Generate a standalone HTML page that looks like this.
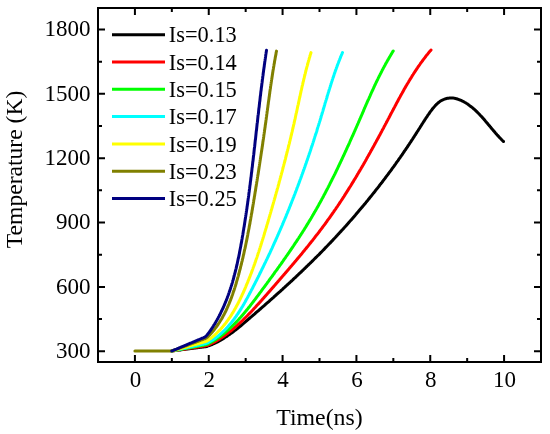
<!DOCTYPE html>
<html><head><meta charset="utf-8"><style>
html,body{margin:0;padding:0;background:#fff;}
body{width:550px;height:434px;overflow:hidden;}
svg{display:block;}
</style></head><body>
<svg width="550" height="434" viewBox="0 0 550 434">
<rect width="550" height="434" fill="#fff"/>
<g fill="none" stroke-width="3.00" stroke-linejoin="round" stroke-linecap="round">
<path stroke="#000000" d="M171.8,351.0 L172.8,350.9 L173.8,350.7 L174.8,350.6 L175.8,350.5 L176.8,350.4 L177.8,350.2 L178.8,350.1 L179.8,350.0 L180.8,349.9 L181.8,349.7 L182.7,349.6 L183.7,349.5 L184.7,349.3 L185.7,349.2 L186.7,349.1 L187.7,349.0 L188.7,348.8 L189.7,348.7 L190.7,348.6 L191.7,348.5 L192.7,348.3 L193.7,348.2 L194.6,348.1 L195.6,348.0 L196.6,347.8 L197.6,347.7 L198.6,347.6 L199.6,347.4 L200.6,347.3 L201.6,347.2 L202.6,347.1 L203.6,346.9 L204.6,346.8 L205.6,346.7 L206.5,346.5 L207.5,346.2 L208.4,345.9 L209.4,345.6 L210.3,345.2 L211.2,344.8 L212.2,344.5 L213.1,344.0 L214.0,343.6 L214.9,343.2 L215.8,342.8 L216.7,342.3 L217.6,341.9 L218.4,341.4 L219.3,340.9 L220.2,340.4 L221.1,339.9 L221.9,339.4 L222.8,338.9 L223.6,338.4 L224.5,337.8 L225.3,337.3 L226.2,336.8 L227.0,336.2 L227.8,335.6 L228.6,335.1 L229.5,334.5 L230.3,333.9 L231.1,333.3 L231.9,332.7 L232.7,332.2 L233.5,331.6 L234.3,330.9 L235.1,330.3 L235.9,329.7 L236.7,329.1 L237.4,328.5 L238.2,327.8 L239.0,327.2 L239.8,326.6 L240.5,326.0 L241.3,325.3 L242.1,324.7 L242.8,324.0 L243.6,323.4 L244.4,322.7 L245.1,322.1 L245.9,321.4 L246.6,320.8 L247.4,320.1 L248.2,319.5 L248.9,318.8 L249.7,318.2 L250.4,317.5 L251.2,316.9 L252.0,316.2 L252.7,315.6 L253.5,314.9 L254.2,314.3 L255.0,313.6 L255.7,312.9 L256.5,312.3 L257.2,311.6 L258.0,311.0 L258.8,310.3 L259.5,309.7 L260.3,309.0 L261.0,308.4 L261.8,307.7 L262.5,307.0 L263.3,306.4 L264.0,305.7 L264.8,305.1 L265.5,304.4 L266.3,303.7 L267.0,303.1 L267.8,302.4 L268.5,301.8 L269.3,301.1 L270.0,300.4 L270.8,299.8 L271.5,299.1 L272.3,298.4 L273.0,297.8 L273.8,297.1 L274.5,296.4 L275.3,295.8 L276.0,295.1 L276.7,294.4 L277.5,293.8 L278.2,293.1 L279.0,292.4 L279.7,291.8 L280.5,291.1 L281.2,290.4 L281.9,289.8 L282.7,289.1 L283.4,288.4 L284.2,287.7 L284.9,287.1 L285.6,286.4 L286.4,285.7 L287.1,285.0 L287.8,284.4 L288.6,283.7 L289.3,283.0 L290.1,282.3 L290.8,281.6 L291.5,281.0 L292.3,280.3 L293.0,279.6 L293.7,278.9 L294.5,278.2 L295.2,277.6 L295.9,276.9 L296.6,276.2 L297.4,275.5 L298.1,274.8 L298.8,274.1 L299.5,273.4 L300.3,272.8 L301.0,272.1 L301.7,271.4 L302.4,270.7 L303.2,270.0 L303.9,269.3 L304.6,268.6 L305.3,267.9 L306.0,267.2 L306.8,266.5 L307.5,265.8 L308.2,265.1 L308.9,264.4 L309.6,263.7 L310.3,263.0 L311.1,262.3 L311.8,261.6 L312.5,260.9 L313.2,260.2 L313.9,259.5 L314.6,258.8 L315.3,258.1 L316.0,257.4 L316.7,256.7 L317.4,256.0 L318.1,255.3 L318.9,254.6 L319.6,253.9 L320.3,253.1 L321.0,252.4 L321.7,251.7 L322.4,251.0 L323.1,250.3 L323.8,249.6 L324.5,248.9 L325.1,248.1 L325.8,247.4 L326.5,246.7 L327.2,246.0 L327.9,245.3 L328.6,244.5 L329.3,243.8 L330.0,243.1 L330.7,242.4 L331.4,241.6 L332.1,240.9 L332.7,240.2 L333.4,239.4 L334.1,238.7 L334.8,238.0 L335.5,237.3 L336.2,236.5 L336.8,235.8 L337.5,235.1 L338.2,234.3 L338.9,233.6 L339.5,232.8 L340.2,232.1 L340.9,231.4 L341.6,230.6 L342.2,229.9 L342.9,229.2 L343.6,228.4 L344.3,227.7 L344.9,226.9 L345.6,226.2 L346.3,225.4 L346.9,224.7 L347.6,223.9 L348.2,223.2 L348.9,222.4 L349.6,221.7 L350.2,220.9 L350.9,220.2 L351.6,219.4 L352.2,218.7 L352.9,217.9 L353.5,217.2 L354.2,216.4 L354.8,215.7 L355.5,214.9 L356.1,214.1 L356.8,213.4 L357.4,212.6 L358.1,211.9 L358.7,211.1 L359.4,210.3 L360.0,209.6 L360.7,208.8 L361.3,208.1 L362.0,207.3 L362.6,206.5 L363.2,205.8 L363.9,205.0 L364.5,204.2 L365.2,203.4 L365.8,202.7 L366.4,201.9 L367.1,201.1 L367.7,200.4 L368.3,199.6 L369.0,198.8 L369.6,198.0 L370.2,197.2 L370.8,196.5 L371.5,195.7 L372.1,194.9 L372.7,194.1 L373.3,193.3 L374.0,192.6 L374.6,191.8 L375.2,191.0 L375.8,190.2 L376.4,189.4 L377.1,188.6 L377.7,187.9 L378.3,187.1 L378.9,186.3 L379.5,185.5 L380.1,184.7 L380.7,183.9 L381.4,183.1 L382.0,182.3 L382.6,181.5 L383.2,180.7 L383.8,179.9 L384.4,179.1 L385.0,178.3 L385.6,177.5 L386.2,176.7 L386.8,175.9 L387.4,175.1 L388.0,174.3 L388.6,173.5 L389.2,172.7 L389.8,171.9 L390.4,171.1 L391.0,170.3 L391.6,169.5 L392.1,168.7 L392.7,167.9 L393.3,167.1 L393.9,166.3 L394.5,165.5 L395.1,164.6 L395.7,163.8 L396.2,163.0 L396.8,162.2 L397.4,161.4 L398.0,160.6 L398.5,159.8 L399.1,158.9 L399.7,158.1 L400.3,157.3 L400.8,156.5 L401.4,155.7 L402.0,154.8 L402.6,154.0 L403.1,153.2 L403.7,152.4 L404.2,151.5 L404.8,150.7 L405.4,149.9 L405.9,149.1 L406.5,148.2 L407.1,147.4 L407.6,146.6 L408.2,145.7 L408.7,144.9 L409.3,144.1 L409.8,143.2 L410.4,142.4 L410.9,141.6 L411.5,140.7 L412.0,139.9 L412.6,139.1 L413.1,138.2 L413.7,137.4 L414.2,136.5 L414.7,135.7 L415.3,134.9 L415.8,134.0 L416.4,133.2 L416.9,132.3 L417.4,131.5 L418.0,130.6 L418.5,129.8 L419.0,129.0 L419.6,128.1 L420.1,127.3 L420.6,126.4 L421.2,125.6 L421.7,124.7 L422.2,123.9 L422.8,123.0 L423.3,122.2 L423.9,121.4 L424.4,120.5 L424.9,119.7 L425.5,118.8 L426.0,118.0 L426.6,117.2 L427.2,116.3 L427.7,115.5 L428.3,114.7 L428.9,113.9 L429.4,113.1 L430.0,112.2 L430.6,111.4 L431.2,110.6 L431.8,109.8 L432.4,109.0 L433.0,108.2 L433.7,107.5 L434.3,106.7 L435.0,106.0 L435.6,105.2 L436.3,104.5 L437.1,103.8 L437.8,103.2 L438.6,102.5 L439.4,101.9 L440.2,101.3 L441.0,100.8 L441.9,100.3 L442.8,99.9 L443.7,99.5 L444.6,99.1 L445.6,98.8 L446.5,98.5 L447.5,98.3 L448.5,98.2 L449.5,98.1 L450.5,98.0 L451.5,98.0 L452.5,98.0 L453.5,98.1 L454.4,98.3 L455.4,98.5 L456.4,98.7 L457.4,99.0 L458.3,99.3 L459.2,99.7 L460.2,100.0 L461.1,100.4 L462.0,100.9 L462.9,101.3 L463.8,101.8 L464.6,102.3 L465.5,102.8 L466.3,103.3 L467.2,103.8 L468.0,104.4 L468.8,105.0 L469.6,105.6 L470.4,106.2 L471.2,106.8 L472.0,107.4 L472.8,108.0 L473.5,108.7 L474.3,109.3 L475.0,110.0 L475.8,110.7 L476.5,111.4 L477.2,112.1 L477.9,112.8 L478.6,113.5 L479.3,114.2 L480.0,114.9 L480.7,115.7 L481.4,116.4 L482.0,117.1 L482.7,117.9 L483.4,118.6 L484.0,119.4 L484.7,120.1 L485.3,120.9 L486.0,121.7 L486.6,122.4 L487.3,123.2 L487.9,124.0 L488.5,124.7 L489.2,125.5 L489.8,126.3 L490.5,127.0 L491.1,127.8 L491.7,128.6 L492.4,129.3 L493.0,130.1 L493.7,130.9 L494.3,131.6 L495.0,132.4 L495.6,133.2 L496.3,133.9 L496.9,134.7 L497.6,135.4 L498.3,136.1 L499.0,136.9 L499.6,137.6 L500.3,138.3 L501.0,139.0 L501.7,139.8 L502.4,140.5 L503.1,141.2 L503.5,141.5"/>
<path stroke="#ff0000" d="M171.8,351.0 L172.8,350.8 L173.8,350.7 L174.8,350.5 L175.8,350.4 L176.8,350.2 L177.8,350.1 L178.8,349.9 L179.7,349.8 L180.7,349.6 L181.7,349.5 L182.7,349.3 L183.7,349.2 L184.7,349.0 L185.7,348.9 L186.7,348.7 L187.6,348.6 L188.6,348.4 L189.6,348.3 L190.6,348.1 L191.6,348.0 L192.6,347.8 L193.6,347.7 L194.6,347.5 L195.6,347.4 L196.5,347.2 L197.5,347.1 L198.5,346.9 L199.5,346.8 L200.5,346.6 L201.5,346.4 L202.5,346.3 L203.5,346.1 L204.4,346.0 L205.4,345.8 L206.4,345.6 L207.4,345.3 L208.3,345.0 L209.2,344.6 L210.1,344.2 L211.0,343.7 L211.9,343.3 L212.8,342.8 L213.7,342.4 L214.6,341.9 L215.4,341.4 L216.3,340.9 L217.2,340.4 L218.0,339.9 L218.9,339.4 L219.7,338.9 L220.6,338.3 L221.4,337.8 L222.2,337.2 L223.1,336.7 L223.9,336.1 L224.7,335.5 L225.5,334.9 L226.3,334.4 L227.1,333.8 L227.9,333.2 L228.7,332.5 L229.5,331.9 L230.3,331.3 L231.1,330.7 L231.9,330.0 L232.6,329.4 L233.4,328.8 L234.2,328.1 L234.9,327.5 L235.7,326.8 L236.4,326.1 L237.2,325.5 L237.9,324.8 L238.6,324.1 L239.4,323.5 L240.1,322.8 L240.8,322.1 L241.6,321.4 L242.3,320.7 L243.0,320.0 L243.7,319.3 L244.4,318.6 L245.1,317.9 L245.8,317.2 L246.5,316.5 L247.2,315.8 L247.9,315.1 L248.6,314.3 L249.3,313.6 L250.0,312.9 L250.7,312.2 L251.4,311.5 L252.1,310.7 L252.8,310.0 L253.5,309.3 L254.1,308.5 L254.8,307.8 L255.5,307.1 L256.2,306.3 L256.8,305.6 L257.5,304.8 L258.2,304.1 L258.9,303.4 L259.5,302.6 L260.2,301.9 L260.9,301.1 L261.5,300.4 L262.2,299.6 L262.9,298.9 L263.5,298.1 L264.2,297.4 L264.8,296.6 L265.5,295.9 L266.2,295.1 L266.8,294.4 L267.5,293.6 L268.1,292.9 L268.8,292.1 L269.5,291.4 L270.1,290.6 L270.8,289.9 L271.4,289.1 L272.1,288.4 L272.7,287.6 L273.4,286.9 L274.1,286.1 L274.7,285.3 L275.4,284.6 L276.0,283.8 L276.7,283.1 L277.3,282.3 L278.0,281.6 L278.6,280.8 L279.3,280.1 L280.0,279.3 L280.6,278.5 L281.3,277.8 L281.9,277.0 L282.6,276.3 L283.2,275.5 L283.9,274.8 L284.5,274.0 L285.2,273.3 L285.8,272.5 L286.5,271.7 L287.1,271.0 L287.8,270.2 L288.4,269.5 L289.1,268.7 L289.7,267.9 L290.4,267.2 L291.0,266.4 L291.7,265.7 L292.3,264.9 L293.0,264.1 L293.6,263.4 L294.3,262.6 L294.9,261.8 L295.6,261.1 L296.2,260.3 L296.9,259.5 L297.5,258.8 L298.1,258.0 L298.8,257.2 L299.4,256.5 L300.1,255.7 L300.7,254.9 L301.3,254.2 L302.0,253.4 L302.6,252.6 L303.2,251.8 L303.9,251.1 L304.5,250.3 L305.1,249.5 L305.8,248.8 L306.4,248.0 L307.0,247.2 L307.7,246.4 L308.3,245.6 L308.9,244.9 L309.5,244.1 L310.2,243.3 L310.8,242.5 L311.4,241.7 L312.0,241.0 L312.7,240.2 L313.3,239.4 L313.9,238.6 L314.5,237.8 L315.1,237.0 L315.7,236.2 L316.3,235.4 L317.0,234.6 L317.6,233.9 L318.2,233.1 L318.8,232.3 L319.4,231.5 L320.0,230.7 L320.6,229.9 L321.2,229.1 L321.8,228.3 L322.4,227.5 L323.0,226.7 L323.6,225.9 L324.2,225.1 L324.8,224.3 L325.4,223.5 L326.0,222.7 L326.6,221.9 L327.1,221.0 L327.7,220.2 L328.3,219.4 L328.9,218.6 L329.5,217.8 L330.1,217.0 L330.6,216.2 L331.2,215.3 L331.8,214.5 L332.4,213.7 L332.9,212.9 L333.5,212.1 L334.1,211.2 L334.6,210.4 L335.2,209.6 L335.8,208.8 L336.3,207.9 L336.9,207.1 L337.5,206.3 L338.0,205.5 L338.6,204.6 L339.1,203.8 L339.7,203.0 L340.2,202.1 L340.8,201.3 L341.3,200.5 L341.9,199.6 L342.4,198.8 L343.0,197.9 L343.5,197.1 L344.1,196.3 L344.6,195.4 L345.1,194.6 L345.7,193.7 L346.2,192.9 L346.7,192.1 L347.3,191.2 L347.8,190.4 L348.3,189.5 L348.9,188.7 L349.4,187.8 L349.9,187.0 L350.5,186.1 L351.0,185.3 L351.5,184.4 L352.0,183.6 L352.6,182.7 L353.1,181.9 L353.6,181.0 L354.1,180.1 L354.6,179.3 L355.2,178.4 L355.7,177.6 L356.2,176.7 L356.7,175.9 L357.2,175.0 L357.7,174.1 L358.2,173.3 L358.7,172.4 L359.2,171.6 L359.8,170.7 L360.3,169.8 L360.8,169.0 L361.3,168.1 L361.8,167.2 L362.3,166.4 L362.8,165.5 L363.3,164.7 L363.8,163.8 L364.3,162.9 L364.8,162.0 L365.3,161.2 L365.8,160.3 L366.3,159.4 L366.7,158.6 L367.2,157.7 L367.7,156.8 L368.2,156.0 L368.7,155.1 L369.2,154.2 L369.7,153.3 L370.2,152.5 L370.7,151.6 L371.1,150.7 L371.6,149.9 L372.1,149.0 L372.6,148.1 L373.1,147.2 L373.6,146.3 L374.1,145.5 L374.5,144.6 L375.0,143.7 L375.5,142.8 L376.0,142.0 L376.4,141.1 L376.9,140.2 L377.4,139.3 L377.9,138.4 L378.4,137.6 L378.8,136.7 L379.3,135.8 L379.8,134.9 L380.3,134.0 L380.7,133.2 L381.2,132.3 L381.7,131.4 L382.1,130.5 L382.6,129.6 L383.1,128.8 L383.6,127.9 L384.0,127.0 L384.5,126.1 L385.0,125.2 L385.4,124.3 L385.9,123.5 L386.4,122.6 L386.8,121.7 L387.3,120.8 L387.8,119.9 L388.2,119.0 L388.7,118.2 L389.2,117.3 L389.6,116.4 L390.1,115.5 L390.6,114.6 L391.0,113.7 L391.5,112.8 L392.0,112.0 L392.4,111.1 L392.9,110.2 L393.4,109.3 L393.8,108.4 L394.3,107.5 L394.8,106.7 L395.2,105.8 L395.7,104.9 L396.2,104.0 L396.6,103.1 L397.1,102.2 L397.6,101.4 L398.1,100.5 L398.5,99.6 L399.0,98.7 L399.5,97.8 L400.0,97.0 L400.4,96.1 L400.9,95.2 L401.4,94.3 L401.9,93.5 L402.4,92.6 L402.9,91.7 L403.4,90.8 L403.8,90.0 L404.3,89.1 L404.8,88.2 L405.3,87.4 L405.8,86.5 L406.3,85.6 L406.8,84.8 L407.3,83.9 L407.9,83.0 L408.4,82.2 L408.9,81.3 L409.4,80.5 L409.9,79.6 L410.4,78.8 L411.0,77.9 L411.5,77.1 L412.0,76.2 L412.5,75.4 L413.1,74.5 L413.6,73.7 L414.2,72.8 L414.7,72.0 L415.3,71.2 L415.8,70.3 L416.4,69.5 L416.9,68.7 L417.5,67.8 L418.0,67.0 L418.6,66.2 L419.2,65.4 L419.8,64.5 L420.3,63.7 L420.9,62.9 L421.5,62.1 L422.1,61.3 L422.7,60.5 L423.3,59.7 L423.9,58.9 L424.5,58.1 L425.1,57.3 L425.7,56.5 L426.3,55.7 L426.9,54.9 L427.6,54.2 L428.2,53.4 L428.8,52.6 L429.5,51.8 L430.1,51.1 L430.7,50.4 L431.0,50.0"/>
<path stroke="#00ff00" d="M171.8,351.0 L172.8,350.8 L173.8,350.6 L174.8,350.5 L175.8,350.3 L176.8,350.1 L177.7,349.9 L178.7,349.7 L179.7,349.5 L180.7,349.4 L181.7,349.2 L182.7,349.0 L183.6,348.8 L184.6,348.6 L185.6,348.5 L186.6,348.3 L187.6,348.1 L188.6,347.9 L189.5,347.7 L190.5,347.5 L191.5,347.4 L192.5,347.2 L193.5,347.0 L194.5,346.8 L195.4,346.6 L196.4,346.5 L197.4,346.3 L198.4,346.1 L199.4,345.9 L200.4,345.7 L201.3,345.5 L202.3,345.4 L203.3,345.2 L204.3,345.0 L205.3,344.8 L206.2,344.6 L207.2,344.3 L208.1,343.9 L209.0,343.5 L209.9,343.0 L210.7,342.5 L211.6,342.0 L212.5,341.5 L213.3,341.0 L214.2,340.5 L215.0,340.0 L215.9,339.4 L216.7,338.9 L217.5,338.3 L218.4,337.7 L219.2,337.2 L220.0,336.6 L220.8,336.0 L221.6,335.4 L222.4,334.8 L223.2,334.1 L223.9,333.5 L224.7,332.9 L225.5,332.2 L226.2,331.6 L227.0,330.9 L227.8,330.3 L228.5,329.6 L229.2,328.9 L230.0,328.3 L230.7,327.6 L231.4,326.9 L232.1,326.2 L232.9,325.5 L233.6,324.8 L234.3,324.1 L235.0,323.4 L235.7,322.6 L236.4,321.9 L237.0,321.2 L237.7,320.5 L238.4,319.7 L239.1,319.0 L239.7,318.2 L240.4,317.5 L241.1,316.7 L241.7,316.0 L242.4,315.2 L243.0,314.5 L243.7,313.7 L244.3,312.9 L245.0,312.2 L245.6,311.4 L246.2,310.6 L246.9,309.9 L247.5,309.1 L248.1,308.3 L248.7,307.5 L249.4,306.7 L250.0,306.0 L250.6,305.2 L251.2,304.4 L251.8,303.6 L252.4,302.8 L253.1,302.0 L253.7,301.2 L254.3,300.4 L254.9,299.6 L255.5,298.8 L256.1,298.0 L256.7,297.2 L257.3,296.4 L257.9,295.6 L258.5,294.8 L259.1,294.0 L259.7,293.2 L260.3,292.4 L260.9,291.6 L261.4,290.8 L262.0,290.0 L262.6,289.2 L263.2,288.4 L263.8,287.6 L264.4,286.8 L265.0,286.0 L265.6,285.2 L266.2,284.4 L266.8,283.6 L267.4,282.7 L268.0,281.9 L268.6,281.1 L269.1,280.3 L269.7,279.5 L270.3,278.7 L270.9,277.9 L271.5,277.1 L272.1,276.3 L272.7,275.5 L273.3,274.7 L273.9,273.9 L274.4,273.0 L275.0,272.2 L275.6,271.4 L276.2,270.6 L276.8,269.8 L277.4,269.0 L277.9,268.2 L278.5,267.4 L279.1,266.6 L279.7,265.7 L280.3,264.9 L280.9,264.1 L281.4,263.3 L282.0,262.5 L282.6,261.7 L283.2,260.8 L283.7,260.0 L284.3,259.2 L284.9,258.4 L285.5,257.6 L286.0,256.7 L286.6,255.9 L287.2,255.1 L287.7,254.3 L288.3,253.5 L288.9,252.6 L289.4,251.8 L290.0,251.0 L290.6,250.2 L291.1,249.3 L291.7,248.5 L292.3,247.7 L292.8,246.9 L293.4,246.0 L293.9,245.2 L294.5,244.4 L295.0,243.5 L295.6,242.7 L296.2,241.9 L296.7,241.0 L297.3,240.2 L297.8,239.4 L298.4,238.5 L298.9,237.7 L299.4,236.9 L300.0,236.0 L300.5,235.2 L301.1,234.3 L301.6,233.5 L302.2,232.6 L302.7,231.8 L303.2,231.0 L303.8,230.1 L304.3,229.3 L304.8,228.4 L305.4,227.6 L305.9,226.7 L306.4,225.9 L306.9,225.0 L307.5,224.2 L308.0,223.3 L308.5,222.5 L309.0,221.6 L309.5,220.8 L310.1,219.9 L310.6,219.0 L311.1,218.2 L311.6,217.3 L312.1,216.5 L312.6,215.6 L313.1,214.7 L313.6,213.9 L314.1,213.0 L314.6,212.1 L315.1,211.3 L315.6,210.4 L316.1,209.5 L316.6,208.7 L317.1,207.8 L317.6,206.9 L318.1,206.1 L318.6,205.2 L319.0,204.3 L319.5,203.4 L320.0,202.6 L320.5,201.7 L321.0,200.8 L321.5,199.9 L321.9,199.0 L322.4,198.2 L322.9,197.3 L323.4,196.4 L323.8,195.5 L324.3,194.6 L324.8,193.8 L325.2,192.9 L325.7,192.0 L326.2,191.1 L326.6,190.2 L327.1,189.3 L327.6,188.4 L328.0,187.6 L328.5,186.7 L328.9,185.8 L329.4,184.9 L329.8,184.0 L330.3,183.1 L330.7,182.2 L331.2,181.3 L331.6,180.4 L332.1,179.5 L332.5,178.6 L333.0,177.7 L333.4,176.8 L333.9,175.9 L334.3,175.1 L334.8,174.2 L335.2,173.3 L335.6,172.4 L336.1,171.5 L336.5,170.6 L336.9,169.7 L337.4,168.8 L337.8,167.9 L338.2,167.0 L338.7,166.1 L339.1,165.2 L339.5,164.2 L340.0,163.3 L340.4,162.4 L340.8,161.5 L341.3,160.6 L341.7,159.7 L342.1,158.8 L342.5,157.9 L342.9,157.0 L343.4,156.1 L343.8,155.2 L344.2,154.3 L344.6,153.4 L345.0,152.5 L345.5,151.6 L345.9,150.7 L346.3,149.7 L346.7,148.8 L347.1,147.9 L347.5,147.0 L348.0,146.1 L348.4,145.2 L348.8,144.3 L349.2,143.4 L349.6,142.5 L350.0,141.5 L350.4,140.6 L350.8,139.7 L351.2,138.8 L351.6,137.9 L352.0,137.0 L352.5,136.1 L352.9,135.2 L353.3,134.2 L353.7,133.3 L354.1,132.4 L354.5,131.5 L354.9,130.6 L355.3,129.7 L355.7,128.7 L356.1,127.8 L356.5,126.9 L356.9,126.0 L357.3,125.1 L357.7,124.2 L358.1,123.3 L358.5,122.3 L358.9,121.4 L359.3,120.5 L359.7,119.6 L360.1,118.7 L360.5,117.7 L360.9,116.8 L361.3,115.9 L361.7,115.0 L362.1,114.1 L362.5,113.2 L362.9,112.2 L363.3,111.3 L363.7,110.4 L364.0,109.5 L364.4,108.6 L364.8,107.7 L365.2,106.7 L365.6,105.8 L366.0,104.9 L366.4,104.0 L366.8,103.1 L367.2,102.2 L367.6,101.2 L368.0,100.3 L368.5,99.4 L368.9,98.5 L369.3,97.6 L369.7,96.7 L370.1,95.8 L370.5,94.8 L370.9,93.9 L371.3,93.0 L371.7,92.1 L372.1,91.2 L372.6,90.3 L373.0,89.4 L373.4,88.5 L373.8,87.6 L374.2,86.7 L374.6,85.7 L375.1,84.8 L375.5,83.9 L375.9,83.0 L376.4,82.1 L376.8,81.2 L377.2,80.3 L377.7,79.4 L378.1,78.5 L378.5,77.6 L379.0,76.7 L379.4,75.8 L379.9,74.9 L380.3,74.1 L380.8,73.2 L381.2,72.3 L381.7,71.4 L382.1,70.5 L382.6,69.6 L383.1,68.7 L383.5,67.8 L384.0,67.0 L384.5,66.1 L385.0,65.2 L385.4,64.3 L385.9,63.4 L386.4,62.6 L386.9,61.7 L387.4,60.8 L387.9,59.9 L388.4,59.1 L388.9,58.2 L389.4,57.3 L389.9,56.5 L390.4,55.6 L390.9,54.8 L391.4,53.9 L391.9,53.1 L392.4,52.2 L392.9,51.4 L393.2,51.0"/>
<path stroke="#00ffff" d="M171.8,351.0 L172.8,350.8 L173.8,350.6 L174.8,350.4 L175.7,350.1 L176.7,349.9 L177.7,349.7 L178.7,349.5 L179.6,349.3 L180.6,349.1 L181.6,348.9 L182.6,348.6 L183.6,348.4 L184.5,348.2 L185.5,348.0 L186.5,347.8 L187.5,347.6 L188.4,347.4 L189.4,347.2 L190.4,346.9 L191.4,346.7 L192.3,346.5 L193.3,346.3 L194.3,346.1 L195.3,345.9 L196.3,345.7 L197.2,345.4 L198.2,345.2 L199.2,345.0 L200.2,344.8 L201.1,344.6 L202.1,344.4 L203.1,344.2 L204.1,343.9 L205.0,343.7 L206.0,343.5 L206.9,343.1 L207.9,342.8 L208.7,342.3 L209.6,341.8 L210.5,341.3 L211.3,340.8 L212.2,340.3 L213.0,339.7 L213.8,339.1 L214.7,338.6 L215.5,338.0 L216.3,337.4 L217.1,336.8 L217.9,336.2 L218.6,335.6 L219.4,334.9 L220.2,334.3 L220.9,333.6 L221.7,333.0 L222.4,332.3 L223.1,331.6 L223.9,330.9 L224.6,330.2 L225.3,329.5 L226.0,328.8 L226.7,328.1 L227.3,327.3 L228.0,326.6 L228.7,325.8 L229.3,325.1 L230.0,324.3 L230.6,323.5 L231.3,322.8 L231.9,322.0 L232.5,321.2 L233.1,320.4 L233.7,319.6 L234.3,318.8 L234.9,318.0 L235.5,317.2 L236.1,316.4 L236.6,315.6 L237.2,314.7 L237.8,313.9 L238.3,313.1 L238.9,312.2 L239.4,311.4 L239.9,310.6 L240.5,309.7 L241.0,308.9 L241.5,308.0 L242.0,307.2 L242.6,306.3 L243.1,305.4 L243.6,304.6 L244.1,303.7 L244.6,302.8 L245.1,302.0 L245.6,301.1 L246.0,300.2 L246.5,299.3 L247.0,298.5 L247.5,297.6 L248.0,296.7 L248.4,295.8 L248.9,295.0 L249.4,294.1 L249.8,293.2 L250.3,292.3 L250.8,291.4 L251.2,290.5 L251.7,289.6 L252.2,288.8 L252.6,287.9 L253.1,287.0 L253.5,286.1 L254.0,285.2 L254.5,284.3 L254.9,283.4 L255.4,282.5 L255.8,281.6 L256.3,280.8 L256.7,279.9 L257.2,279.0 L257.6,278.1 L258.1,277.2 L258.5,276.3 L259.0,275.4 L259.4,274.5 L259.9,273.6 L260.3,272.7 L260.8,271.8 L261.2,270.9 L261.6,270.0 L262.1,269.1 L262.5,268.2 L263.0,267.3 L263.4,266.4 L263.8,265.5 L264.3,264.6 L264.7,263.7 L265.1,262.8 L265.6,261.9 L266.0,261.0 L266.4,260.1 L266.9,259.2 L267.3,258.3 L267.7,257.4 L268.2,256.5 L268.6,255.6 L269.0,254.7 L269.4,253.8 L269.9,252.9 L270.3,252.0 L270.7,251.1 L271.1,250.2 L271.5,249.3 L272.0,248.3 L272.4,247.4 L272.8,246.5 L273.2,245.6 L273.6,244.7 L274.0,243.8 L274.4,242.9 L274.8,242.0 L275.3,241.1 L275.7,240.1 L276.1,239.2 L276.5,238.3 L276.9,237.4 L277.3,236.5 L277.7,235.6 L278.1,234.7 L278.5,233.7 L278.9,232.8 L279.3,231.9 L279.7,231.0 L280.1,230.1 L280.5,229.2 L280.9,228.2 L281.3,227.3 L281.7,226.4 L282.1,225.5 L282.5,224.6 L282.9,223.6 L283.2,222.7 L283.6,221.8 L284.0,220.9 L284.4,220.0 L284.8,219.0 L285.2,218.1 L285.6,217.2 L286.0,216.3 L286.3,215.3 L286.7,214.4 L287.1,213.5 L287.5,212.6 L287.9,211.6 L288.2,210.7 L288.6,209.8 L289.0,208.9 L289.4,207.9 L289.7,207.0 L290.1,206.1 L290.5,205.2 L290.8,204.2 L291.2,203.3 L291.6,202.4 L291.9,201.4 L292.3,200.5 L292.7,199.6 L293.0,198.6 L293.4,197.7 L293.8,196.8 L294.1,195.8 L294.5,194.9 L294.9,194.0 L295.2,193.0 L295.6,192.1 L295.9,191.2 L296.3,190.2 L296.6,189.3 L297.0,188.4 L297.3,187.4 L297.7,186.5 L298.0,185.6 L298.4,184.6 L298.7,183.7 L299.1,182.8 L299.4,181.8 L299.8,180.9 L300.1,179.9 L300.5,179.0 L300.8,178.1 L301.2,177.1 L301.5,176.2 L301.8,175.2 L302.2,174.3 L302.5,173.4 L302.9,172.4 L303.2,171.5 L303.5,170.5 L303.9,169.6 L304.2,168.7 L304.5,167.7 L304.9,166.8 L305.2,165.8 L305.5,164.9 L305.9,163.9 L306.2,163.0 L306.5,162.0 L306.8,161.1 L307.2,160.2 L307.5,159.2 L307.8,158.3 L308.1,157.3 L308.5,156.4 L308.8,155.4 L309.1,154.5 L309.4,153.5 L309.8,152.6 L310.1,151.6 L310.4,150.7 L310.7,149.7 L311.0,148.8 L311.3,147.8 L311.6,146.9 L312.0,145.9 L312.3,145.0 L312.6,144.0 L312.9,143.1 L313.2,142.1 L313.5,141.2 L313.8,140.2 L314.1,139.3 L314.4,138.3 L314.7,137.4 L315.0,136.4 L315.3,135.5 L315.6,134.5 L316.0,133.6 L316.3,132.6 L316.6,131.7 L316.9,130.7 L317.1,129.8 L317.4,128.8 L317.7,127.8 L318.0,126.9 L318.3,125.9 L318.6,125.0 L318.9,124.0 L319.2,123.1 L319.5,122.1 L319.8,121.2 L320.1,120.2 L320.4,119.2 L320.7,118.3 L321.0,117.3 L321.2,116.4 L321.5,115.4 L321.8,114.5 L322.1,113.5 L322.4,112.5 L322.7,111.6 L323.0,110.6 L323.2,109.7 L323.5,108.7 L323.8,107.7 L324.1,106.8 L324.4,105.8 L324.7,104.9 L324.9,103.9 L325.2,102.9 L325.5,102.0 L325.8,101.0 L326.1,100.1 L326.4,99.1 L326.7,98.2 L327.0,97.2 L327.2,96.2 L327.5,95.3 L327.8,94.3 L328.1,93.4 L328.4,92.4 L328.7,91.5 L329.0,90.5 L329.3,89.5 L329.6,88.6 L329.9,87.6 L330.2,86.7 L330.5,85.7 L330.8,84.8 L331.1,83.8 L331.4,82.9 L331.7,81.9 L332.0,81.0 L332.3,80.0 L332.6,79.1 L332.9,78.1 L333.3,77.2 L333.6,76.2 L333.9,75.3 L334.2,74.3 L334.5,73.4 L334.9,72.4 L335.2,71.5 L335.5,70.5 L335.9,69.6 L336.2,68.7 L336.5,67.7 L336.9,66.8 L337.2,65.8 L337.6,64.9 L337.9,64.0 L338.3,63.0 L338.6,62.1 L339.0,61.2 L339.4,60.2 L339.7,59.3 L340.1,58.4 L340.5,57.4 L340.8,56.5 L341.2,55.6 L341.6,54.7 L342.0,53.8 L342.3,52.9 L342.5,52.5"/>
<path stroke="#ffff00" d="M171.8,351.0 L172.8,350.7 L173.8,350.5 L174.7,350.2 L175.7,349.9 L176.6,349.7 L177.6,349.4 L178.6,349.1 L179.5,348.9 L180.5,348.6 L181.5,348.3 L182.4,348.0 L183.4,347.8 L184.4,347.5 L185.3,347.2 L186.3,347.0 L187.2,346.7 L188.2,346.4 L189.2,346.2 L190.1,345.9 L191.1,345.6 L192.1,345.4 L193.0,345.1 L194.0,344.8 L195.0,344.6 L195.9,344.3 L196.9,344.0 L197.8,343.8 L198.8,343.5 L199.8,343.2 L200.7,342.9 L201.7,342.7 L202.7,342.4 L203.6,342.1 L204.6,341.9 L205.5,341.6 L206.5,341.2 L207.3,340.8 L208.2,340.3 L209.0,339.7 L209.8,339.1 L210.6,338.5 L211.4,337.9 L212.1,337.2 L212.9,336.6 L213.7,335.9 L214.4,335.3 L215.1,334.6 L215.9,333.9 L216.6,333.2 L217.3,332.5 L218.0,331.8 L218.7,331.1 L219.4,330.4 L220.1,329.7 L220.8,328.9 L221.4,328.2 L222.1,327.4 L222.8,326.7 L223.4,325.9 L224.0,325.1 L224.7,324.4 L225.3,323.6 L225.9,322.8 L226.5,322.0 L227.1,321.2 L227.7,320.4 L228.3,319.6 L228.8,318.7 L229.4,317.9 L230.0,317.1 L230.5,316.3 L231.1,315.4 L231.6,314.6 L232.1,313.7 L232.7,312.9 L233.2,312.0 L233.7,311.2 L234.2,310.3 L234.7,309.4 L235.2,308.6 L235.7,307.7 L236.2,306.8 L236.6,305.9 L237.1,305.1 L237.6,304.2 L238.1,303.3 L238.5,302.4 L239.0,301.5 L239.4,300.6 L239.9,299.7 L240.3,298.8 L240.7,297.9 L241.2,297.0 L241.6,296.1 L242.0,295.2 L242.4,294.3 L242.8,293.4 L243.3,292.5 L243.7,291.6 L244.1,290.7 L244.5,289.7 L244.9,288.8 L245.3,287.9 L245.7,287.0 L246.0,286.1 L246.4,285.1 L246.8,284.2 L247.2,283.3 L247.6,282.4 L248.0,281.4 L248.3,280.5 L248.7,279.6 L249.1,278.7 L249.4,277.7 L249.8,276.8 L250.2,275.9 L250.5,274.9 L250.9,274.0 L251.3,273.1 L251.6,272.1 L252.0,271.2 L252.3,270.3 L252.7,269.3 L253.0,268.4 L253.3,267.4 L253.7,266.5 L254.0,265.6 L254.4,264.6 L254.7,263.7 L255.0,262.7 L255.4,261.8 L255.7,260.8 L256.0,259.9 L256.3,259.0 L256.7,258.0 L257.0,257.1 L257.3,256.1 L257.6,255.2 L257.9,254.2 L258.2,253.3 L258.6,252.3 L258.9,251.4 L259.2,250.4 L259.5,249.5 L259.8,248.5 L260.1,247.6 L260.4,246.6 L260.7,245.7 L261.0,244.7 L261.3,243.7 L261.6,242.8 L261.9,241.8 L262.2,240.9 L262.5,239.9 L262.8,239.0 L263.1,238.0 L263.4,237.1 L263.7,236.1 L264.0,235.1 L264.3,234.2 L264.5,233.2 L264.8,232.3 L265.1,231.3 L265.4,230.4 L265.7,229.4 L266.0,228.4 L266.3,227.5 L266.6,226.5 L266.8,225.6 L267.1,224.6 L267.4,223.7 L267.7,222.7 L268.0,221.7 L268.3,220.8 L268.5,219.8 L268.8,218.9 L269.1,217.9 L269.4,216.9 L269.7,216.0 L269.9,215.0 L270.2,214.1 L270.5,213.1 L270.8,212.1 L271.0,211.2 L271.3,210.2 L271.6,209.3 L271.9,208.3 L272.2,207.3 L272.4,206.4 L272.7,205.4 L273.0,204.4 L273.3,203.5 L273.5,202.5 L273.8,201.6 L274.1,200.6 L274.4,199.6 L274.6,198.7 L274.9,197.7 L275.2,196.7 L275.4,195.8 L275.7,194.8 L276.0,193.9 L276.2,192.9 L276.5,191.9 L276.8,191.0 L277.1,190.0 L277.3,189.0 L277.6,188.1 L277.9,187.1 L278.1,186.2 L278.4,185.2 L278.7,184.2 L278.9,183.3 L279.2,182.3 L279.4,181.3 L279.7,180.4 L280.0,179.4 L280.2,178.4 L280.5,177.5 L280.8,176.5 L281.0,175.5 L281.3,174.6 L281.5,173.6 L281.8,172.6 L282.1,171.7 L282.3,170.7 L282.6,169.7 L282.8,168.8 L283.1,167.8 L283.3,166.8 L283.6,165.9 L283.8,164.9 L284.1,163.9 L284.3,163.0 L284.6,162.0 L284.9,161.0 L285.1,160.1 L285.4,159.1 L285.6,158.1 L285.8,157.2 L286.1,156.2 L286.3,155.2 L286.6,154.3 L286.8,153.3 L287.1,152.3 L287.3,151.4 L287.6,150.4 L287.8,149.4 L288.1,148.4 L288.3,147.5 L288.5,146.5 L288.8,145.5 L289.0,144.6 L289.3,143.6 L289.5,142.6 L289.7,141.6 L290.0,140.7 L290.2,139.7 L290.4,138.7 L290.7,137.8 L290.9,136.8 L291.1,135.8 L291.4,134.8 L291.6,133.9 L291.8,132.9 L292.1,131.9 L292.3,130.9 L292.5,130.0 L292.7,129.0 L293.0,128.0 L293.2,127.0 L293.4,126.1 L293.6,125.1 L293.9,124.1 L294.1,123.1 L294.3,122.2 L294.5,121.2 L294.7,120.2 L295.0,119.2 L295.2,118.3 L295.4,117.3 L295.6,116.3 L295.8,115.3 L296.0,114.4 L296.2,113.4 L296.5,112.4 L296.7,111.4 L296.9,110.5 L297.1,109.5 L297.3,108.5 L297.5,107.5 L297.7,106.5 L297.9,105.6 L298.2,104.6 L298.4,103.6 L298.6,102.6 L298.8,101.7 L299.0,100.7 L299.2,99.7 L299.4,98.7 L299.6,97.8 L299.9,96.8 L300.1,95.8 L300.3,94.8 L300.5,93.8 L300.7,92.9 L300.9,91.9 L301.1,90.9 L301.4,89.9 L301.6,89.0 L301.8,88.0 L302.0,87.0 L302.2,86.0 L302.5,85.1 L302.7,84.1 L302.9,83.1 L303.1,82.1 L303.4,81.2 L303.6,80.2 L303.8,79.2 L304.1,78.2 L304.3,77.3 L304.5,76.3 L304.8,75.3 L305.0,74.4 L305.3,73.4 L305.5,72.4 L305.7,71.5 L306.0,70.5 L306.2,69.5 L306.5,68.5 L306.7,67.6 L307.0,66.6 L307.3,65.6 L307.5,64.7 L307.8,63.7 L308.0,62.7 L308.3,61.8 L308.6,60.8 L308.9,59.9 L309.1,58.9 L309.4,57.9 L309.7,57.0 L310.0,56.0 L310.2,55.1 L310.5,54.2 L310.8,53.4 L311.0,52.6 L311.0,52.6"/>
<path stroke="#808000" d="M134.9,351.0 L135.9,351.0 L136.9,351.0 L137.9,351.0 L138.9,351.0 L139.9,351.0 L140.9,351.0 L141.9,351.0 L142.9,351.0 L143.9,351.0 L144.9,351.0 L145.9,351.0 L146.9,351.0 L147.9,351.0 L148.9,351.0 L149.9,351.0 L150.9,351.0 L151.9,351.0 L152.9,351.0 L153.9,351.0 L154.9,351.0 L155.9,351.0 L156.9,351.0 L157.9,351.0 L158.9,351.0 L159.9,351.0 L160.9,351.0 L161.9,351.0 L162.9,351.0 L163.9,351.0 L164.9,351.0 L165.9,351.0 L166.9,351.0 L167.9,351.0 L168.9,351.0 L169.9,351.0 L170.9,350.9 L171.9,350.8 L172.8,350.6 L173.8,350.3 L174.7,349.9 L175.7,349.6 L176.6,349.2 L177.5,348.9 L178.5,348.5 L179.4,348.2 L180.4,347.9 L181.3,347.5 L182.2,347.2 L183.2,346.8 L184.1,346.5 L185.0,346.1 L186.0,345.8 L186.9,345.4 L187.9,345.1 L188.8,344.7 L189.7,344.4 L190.7,344.0 L191.6,343.7 L192.5,343.4 L193.5,343.0 L194.4,342.7 L195.4,342.3 L196.3,342.0 L197.2,341.6 L198.2,341.3 L199.1,340.9 L200.1,340.6 L201.0,340.2 L201.9,339.9 L202.9,339.5 L203.8,339.2 L204.7,338.8 L205.6,338.4 L206.5,337.9 L207.3,337.3 L208.0,336.7 L208.7,336.0 L209.4,335.3 L210.1,334.5 L210.8,333.8 L211.4,333.1 L212.1,332.3 L212.7,331.5 L213.4,330.8 L214.0,330.0 L214.6,329.2 L215.2,328.4 L215.8,327.6 L216.4,326.8 L217.0,326.0 L217.6,325.2 L218.1,324.4 L218.7,323.5 L219.2,322.7 L219.8,321.8 L220.3,321.0 L220.8,320.1 L221.4,319.3 L221.9,318.4 L222.4,317.6 L222.8,316.7 L223.3,315.8 L223.8,314.9 L224.3,314.0 L224.7,313.2 L225.2,312.3 L225.6,311.4 L226.1,310.5 L226.5,309.6 L226.9,308.7 L227.3,307.7 L227.7,306.8 L228.1,305.9 L228.5,305.0 L228.9,304.1 L229.3,303.1 L229.7,302.2 L230.0,301.3 L230.4,300.4 L230.8,299.4 L231.1,298.5 L231.5,297.6 L231.8,296.6 L232.1,295.7 L232.5,294.7 L232.8,293.8 L233.1,292.8 L233.4,291.9 L233.8,290.9 L234.1,290.0 L234.4,289.0 L234.7,288.1 L235.0,287.1 L235.3,286.2 L235.6,285.2 L235.9,284.3 L236.2,283.3 L236.4,282.4 L236.7,281.4 L237.0,280.4 L237.3,279.5 L237.5,278.5 L237.8,277.5 L238.1,276.6 L238.4,275.6 L238.6,274.7 L238.9,273.7 L239.1,272.7 L239.4,271.8 L239.6,270.8 L239.9,269.8 L240.2,268.9 L240.4,267.9 L240.6,266.9 L240.9,265.9 L241.1,265.0 L241.4,264.0 L241.6,263.0 L241.8,262.1 L242.1,261.1 L242.3,260.1 L242.5,259.1 L242.8,258.2 L243.0,257.2 L243.2,256.2 L243.4,255.2 L243.7,254.3 L243.9,253.3 L244.1,252.3 L244.3,251.3 L244.5,250.4 L244.7,249.4 L245.0,248.4 L245.2,247.4 L245.4,246.5 L245.6,245.5 L245.8,244.5 L246.0,243.5 L246.2,242.5 L246.4,241.6 L246.6,240.6 L246.8,239.6 L247.0,238.6 L247.2,237.6 L247.4,236.7 L247.6,235.7 L247.8,234.7 L247.9,233.7 L248.1,232.7 L248.3,231.8 L248.5,230.8 L248.7,229.8 L248.9,228.8 L249.1,227.8 L249.2,226.8 L249.4,225.9 L249.6,224.9 L249.8,223.9 L250.0,222.9 L250.1,221.9 L250.3,220.9 L250.5,219.9 L250.7,219.0 L250.8,218.0 L251.0,217.0 L251.2,216.0 L251.3,215.0 L251.5,214.0 L251.7,213.1 L251.9,212.1 L252.0,211.1 L252.2,210.1 L252.4,209.1 L252.5,208.1 L252.7,207.1 L252.9,206.2 L253.0,205.2 L253.2,204.2 L253.4,203.2 L253.5,202.2 L253.7,201.2 L253.8,200.2 L254.0,199.2 L254.2,198.3 L254.3,197.3 L254.5,196.3 L254.7,195.3 L254.8,194.3 L255.0,193.3 L255.1,192.3 L255.3,191.4 L255.5,190.4 L255.6,189.4 L255.8,188.4 L255.9,187.4 L256.1,186.4 L256.3,185.4 L256.4,184.4 L256.6,183.5 L256.7,182.5 L256.9,181.5 L257.1,180.5 L257.2,179.5 L257.4,178.5 L257.5,177.5 L257.7,176.5 L257.8,175.6 L258.0,174.6 L258.2,173.6 L258.3,172.6 L258.5,171.6 L258.6,170.6 L258.8,169.6 L258.9,168.6 L259.1,167.6 L259.2,166.7 L259.4,165.7 L259.5,164.7 L259.7,163.7 L259.8,162.7 L260.0,161.7 L260.1,160.7 L260.3,159.7 L260.4,158.8 L260.6,157.8 L260.7,156.8 L260.9,155.8 L261.0,154.8 L261.2,153.8 L261.3,152.8 L261.5,151.8 L261.6,150.8 L261.8,149.9 L261.9,148.9 L262.1,147.9 L262.2,146.9 L262.4,145.9 L262.5,144.9 L262.7,143.9 L262.8,142.9 L262.9,141.9 L263.1,140.9 L263.2,140.0 L263.4,139.0 L263.5,138.0 L263.7,137.0 L263.8,136.0 L263.9,135.0 L264.1,134.0 L264.2,133.0 L264.4,132.0 L264.5,131.1 L264.6,130.1 L264.8,129.1 L264.9,128.1 L265.1,127.1 L265.2,126.1 L265.3,125.1 L265.5,124.1 L265.6,123.1 L265.8,122.1 L265.9,121.1 L266.0,120.2 L266.2,119.2 L266.3,118.2 L266.4,117.2 L266.6,116.2 L266.7,115.2 L266.8,114.2 L267.0,113.2 L267.1,112.2 L267.2,111.2 L267.4,110.2 L267.5,109.3 L267.6,108.3 L267.8,107.3 L267.9,106.3 L268.0,105.3 L268.2,104.3 L268.3,103.3 L268.4,102.3 L268.6,101.3 L268.7,100.3 L268.9,99.3 L269.0,98.4 L269.1,97.4 L269.3,96.4 L269.4,95.4 L269.5,94.4 L269.7,93.4 L269.8,92.4 L269.9,91.4 L270.1,90.4 L270.2,89.4 L270.4,88.5 L270.5,87.5 L270.6,86.5 L270.8,85.5 L270.9,84.5 L271.1,83.5 L271.2,82.5 L271.4,81.5 L271.5,80.5 L271.7,79.5 L271.8,78.6 L272.0,77.6 L272.1,76.6 L272.3,75.6 L272.4,74.6 L272.6,73.6 L272.7,72.6 L272.9,71.6 L273.0,70.7 L273.2,69.7 L273.4,68.7 L273.5,67.7 L273.7,66.7 L273.9,65.7 L274.0,64.7 L274.2,63.7 L274.4,62.8 L274.5,61.8 L274.7,60.8 L274.9,59.8 L275.1,58.8 L275.2,57.8 L275.4,56.9 L275.6,55.9 L275.8,54.9 L276.0,53.9 L276.1,52.9 L276.3,52.0 L276.5,51.1 L276.5,51.1"/>
<path stroke="#000080" d="M171.8,351.0 L172.8,350.6 L173.7,350.2 L174.6,349.8 L175.5,349.4 L176.4,349.1 L177.4,348.7 L178.3,348.3 L179.2,347.9 L180.1,347.5 L181.0,347.1 L182.0,346.7 L182.9,346.3 L183.8,346.0 L184.7,345.6 L185.7,345.2 L186.6,344.8 L187.5,344.4 L188.4,344.0 L189.3,343.6 L190.3,343.2 L191.2,342.9 L192.1,342.5 L193.0,342.1 L194.0,341.7 L194.9,341.3 L195.8,340.9 L196.7,340.5 L197.6,340.1 L198.6,339.7 L199.5,339.4 L200.4,339.0 L201.3,338.6 L202.2,338.2 L203.2,337.8 L204.1,337.4 L204.9,336.9 L205.7,336.4 L206.4,335.7 L207.1,335.0 L207.7,334.2 L208.3,333.4 L208.9,332.6 L209.5,331.8 L210.1,331.0 L210.6,330.2 L211.2,329.3 L211.8,328.5 L212.3,327.7 L212.9,326.8 L213.4,326.0 L213.9,325.1 L214.5,324.3 L215.0,323.4 L215.5,322.6 L216.0,321.7 L216.5,320.8 L217.0,320.0 L217.5,319.1 L218.0,318.2 L218.4,317.3 L218.9,316.5 L219.4,315.6 L219.8,314.7 L220.3,313.8 L220.7,312.9 L221.1,312.0 L221.6,311.1 L222.0,310.2 L222.4,309.3 L222.8,308.4 L223.3,307.5 L223.7,306.5 L224.1,305.6 L224.5,304.7 L224.8,303.8 L225.2,302.9 L225.6,301.9 L226.0,301.0 L226.4,300.1 L226.7,299.2 L227.1,298.2 L227.4,297.3 L227.8,296.3 L228.1,295.4 L228.5,294.5 L228.8,293.5 L229.1,292.6 L229.4,291.6 L229.8,290.7 L230.1,289.7 L230.4,288.8 L230.7,287.8 L231.0,286.9 L231.3,285.9 L231.6,285.0 L231.9,284.0 L232.2,283.1 L232.5,282.1 L232.7,281.1 L233.0,280.2 L233.3,279.2 L233.6,278.3 L233.8,277.3 L234.1,276.3 L234.3,275.4 L234.6,274.4 L234.8,273.4 L235.1,272.5 L235.3,271.5 L235.6,270.5 L235.8,269.5 L236.1,268.6 L236.3,267.6 L236.5,266.6 L236.7,265.7 L237.0,264.7 L237.2,263.7 L237.4,262.7 L237.6,261.7 L237.8,260.8 L238.0,259.8 L238.2,258.8 L238.5,257.8 L238.7,256.9 L238.9,255.9 L239.1,254.9 L239.3,253.9 L239.5,252.9 L239.6,252.0 L239.8,251.0 L240.0,250.0 L240.2,249.0 L240.4,248.0 L240.6,247.0 L240.8,246.1 L240.9,245.1 L241.1,244.1 L241.3,243.1 L241.5,242.1 L241.7,241.1 L241.8,240.2 L242.0,239.2 L242.2,238.2 L242.3,237.2 L242.5,236.2 L242.7,235.2 L242.9,234.2 L243.0,233.3 L243.2,232.3 L243.3,231.3 L243.5,230.3 L243.7,229.3 L243.8,228.3 L244.0,227.3 L244.2,226.4 L244.3,225.4 L244.5,224.4 L244.6,223.4 L244.8,222.4 L244.9,221.4 L245.1,220.4 L245.2,219.4 L245.4,218.4 L245.5,217.5 L245.7,216.5 L245.8,215.5 L246.0,214.5 L246.1,213.5 L246.3,212.5 L246.4,211.5 L246.6,210.5 L246.7,209.5 L246.9,208.6 L247.0,207.6 L247.1,206.6 L247.3,205.6 L247.4,204.6 L247.6,203.6 L247.7,202.6 L247.8,201.6 L248.0,200.6 L248.1,199.6 L248.2,198.7 L248.4,197.7 L248.5,196.7 L248.7,195.7 L248.8,194.7 L248.9,193.7 L249.0,192.7 L249.2,191.7 L249.3,190.7 L249.4,189.7 L249.6,188.7 L249.7,187.7 L249.8,186.8 L249.9,185.8 L250.1,184.8 L250.2,183.8 L250.3,182.8 L250.4,181.8 L250.6,180.8 L250.7,179.8 L250.8,178.8 L250.9,177.8 L251.1,176.8 L251.2,175.8 L251.3,174.9 L251.4,173.9 L251.5,172.9 L251.7,171.9 L251.8,170.9 L251.9,169.9 L252.0,168.9 L252.1,167.9 L252.3,166.9 L252.4,165.9 L252.5,164.9 L252.6,163.9 L252.7,162.9 L252.8,161.9 L253.0,160.9 L253.1,160.0 L253.2,159.0 L253.3,158.0 L253.4,157.0 L253.5,156.0 L253.7,155.0 L253.8,154.0 L253.9,153.0 L254.0,152.0 L254.1,151.0 L254.2,150.0 L254.3,149.0 L254.4,148.0 L254.6,147.0 L254.7,146.0 L254.8,145.1 L254.9,144.1 L255.0,143.1 L255.1,142.1 L255.2,141.1 L255.3,140.1 L255.5,139.1 L255.6,138.1 L255.7,137.1 L255.8,136.1 L255.9,135.1 L256.0,134.1 L256.1,133.1 L256.2,132.1 L256.3,131.1 L256.5,130.1 L256.6,129.2 L256.7,128.2 L256.8,127.2 L256.9,126.2 L257.0,125.2 L257.1,124.2 L257.2,123.2 L257.4,122.2 L257.5,121.2 L257.6,120.2 L257.7,119.2 L257.8,118.2 L257.9,117.2 L258.0,116.2 L258.1,115.2 L258.3,114.2 L258.4,113.3 L258.5,112.3 L258.6,111.3 L258.7,110.3 L258.8,109.3 L258.9,108.3 L259.1,107.3 L259.2,106.3 L259.3,105.3 L259.4,104.3 L259.5,103.3 L259.6,102.3 L259.8,101.3 L259.9,100.3 L260.0,99.3 L260.1,98.4 L260.2,97.4 L260.3,96.4 L260.5,95.4 L260.6,94.4 L260.7,93.4 L260.8,92.4 L260.9,91.4 L261.1,90.4 L261.2,89.4 L261.3,88.4 L261.4,87.4 L261.6,86.4 L261.7,85.5 L261.8,84.5 L261.9,83.5 L262.1,82.5 L262.2,81.5 L262.3,80.5 L262.4,79.5 L262.6,78.5 L262.7,77.5 L262.8,76.5 L263.0,75.5 L263.1,74.5 L263.2,73.5 L263.3,72.6 L263.5,71.6 L263.6,70.6 L263.7,69.6 L263.9,68.6 L264.0,67.6 L264.2,66.6 L264.3,65.6 L264.4,64.6 L264.6,63.6 L264.7,62.7 L264.8,61.7 L265.0,60.7 L265.1,59.7 L265.3,58.7 L265.4,57.7 L265.6,56.7 L265.7,55.7 L265.8,54.7 L266.0,53.7 L266.1,52.8 L266.3,51.8 L266.4,50.8 L266.5,50.3"/>
</g>
<g stroke="#000" stroke-width="2" fill="none">
<rect x="98.0" y="8.0" width="443.0" height="354.0"/>
<path d="M134.92,362.00v-7 M134.92,8.00v7 M171.83,362.00v-4 M171.83,8.00v4 M208.75,362.00v-7 M208.75,8.00v7 M245.67,362.00v-4 M245.67,8.00v4 M282.58,362.00v-7 M282.58,8.00v7 M319.50,362.00v-4 M319.50,8.00v4 M356.42,362.00v-7 M356.42,8.00v7 M393.33,362.00v-4 M393.33,8.00v4 M430.25,362.00v-7 M430.25,8.00v7 M467.17,362.00v-4 M467.17,8.00v4 M504.08,362.00v-7 M504.08,8.00v7 M98.00,351.27h7 M541.00,351.27h-7 M98.00,319.09h4 M541.00,319.09h-4 M98.00,286.91h7 M541.00,286.91h-7 M98.00,254.73h4 M541.00,254.73h-4 M98.00,222.55h7 M541.00,222.55h-7 M98.00,190.36h4 M541.00,190.36h-4 M98.00,158.18h7 M541.00,158.18h-7 M98.00,126.00h4 M541.00,126.00h-4 M98.00,93.82h7 M541.00,93.82h-7 M98.00,61.64h4 M541.00,61.64h-4 M98.00,29.45h7 M541.00,29.45h-7"/>
</g>
<g font-family="Liberation Serif, serif" font-size="23" fill="#000">
<text x="90.6" y="358.17" text-anchor="end">300</text>
<text x="90.6" y="293.81" text-anchor="end">600</text>
<text x="90.6" y="229.45" text-anchor="end">900</text>
<text x="90.6" y="165.08" text-anchor="end">1200</text>
<text x="90.6" y="100.72" text-anchor="end">1500</text>
<text x="90.6" y="36.35" text-anchor="end">1800</text>
<text x="135.42" y="387.2" text-anchor="middle">0</text>
<text x="209.25" y="387.2" text-anchor="middle">2</text>
<text x="283.08" y="387.2" text-anchor="middle">4</text>
<text x="356.92" y="387.2" text-anchor="middle">6</text>
<text x="430.75" y="387.2" text-anchor="middle">8</text>
<text x="504.58" y="387.2" text-anchor="middle">10</text>
<text x="319.5" y="424.8" text-anchor="middle" font-size="23.8">Time(ns)</text>
<text transform="translate(21.7,169.4) rotate(-90)" text-anchor="middle" font-size="23.6">Temperature (K)</text>
</g>
<g font-family="Liberation Serif, serif" font-size="22.4" fill="#000">
<path d="M112,34.70H165" stroke="#000000" stroke-width="3" fill="none"/>
<text x="168.8" y="42.40">Is=0.13</text>
<path d="M112,62.00H165" stroke="#ff0000" stroke-width="3" fill="none"/>
<text x="168.8" y="69.70">Is=0.14</text>
<path d="M112,89.30H165" stroke="#00ff00" stroke-width="3" fill="none"/>
<text x="168.8" y="97.00">Is=0.15</text>
<path d="M112,116.60H165" stroke="#00ffff" stroke-width="3" fill="none"/>
<text x="168.8" y="124.30">Is=0.17</text>
<path d="M112,143.90H165" stroke="#ffff00" stroke-width="3" fill="none"/>
<text x="168.8" y="151.60">Is=0.19</text>
<path d="M112,171.20H165" stroke="#808000" stroke-width="3" fill="none"/>
<text x="168.8" y="178.90">Is=0.23</text>
<path d="M112,198.50H165" stroke="#000080" stroke-width="3" fill="none"/>
<text x="168.8" y="206.20">Is=0.25</text>
</g>
</svg>
</body></html>
